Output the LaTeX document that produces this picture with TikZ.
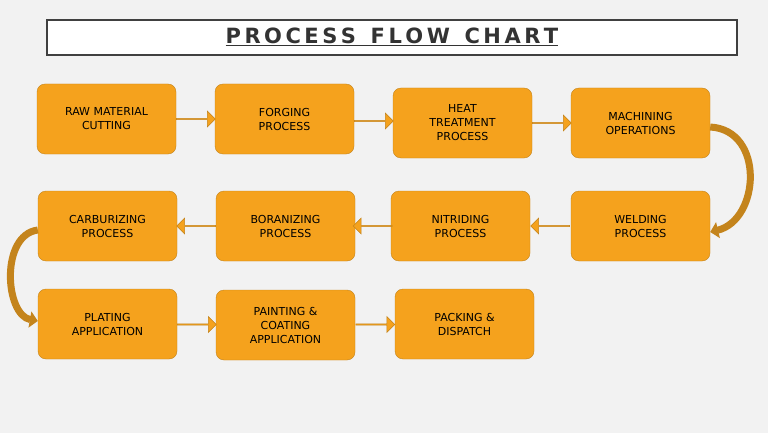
\documentclass[tikz,border=0pt]{standalone}
\usepackage{fontspec}
\setmainfont{DejaVu Sans}
\usetikzlibrary{shapes.arrows,calc,arrows.meta}
\definecolor{orf}{HTML}{F5A21D}
\definecolor{ord}{HTML}{C4841C}
\definecolor{bg}{HTML}{F2F2F2}
\begin{document}
\begin{tikzpicture}[x=1pt,y=-1pt,
 box/.style={draw=ord,fill=orf,rounded corners=8pt,minimum width=139pt,minimum height=70pt,align=center,font=\fontsize{11}{14}\selectfont,inner sep=2pt},
 arr/.style={single arrow,draw=ord,fill=orf,minimum height=39pt,minimum width=16pt,single arrow head extend=3pt,inner sep=0pt,line width=0.5pt},
 curv/.style={draw=ord,line width=7pt,-{Triangle[width=16pt,length=8pt]}}]
\useasboundingbox[fill=bg] (0,0) rectangle (768,433);
\node[draw=black!75,line width=1.5pt,fill=white,minimum width=690pt,minimum height=35pt,inner sep=0pt] (title) at (392,37.5) {};
\node[font=\bfseries\fontsize{21}{24}\selectfont,text=black!80] (tt) at (392,37) {\underline{P\,R\,O\,C\,E\,S\,S\ \ F\,L\,O\,W\ \ C\,H\,A\,R\,T}};
\node[box] (a) at (106.5,119) {RAW MATERIAL\\CUTTING};
\node[box] (b) at (284.5,119) {FORGING\\PROCESS};
\node[box] (c) at (462.5,123) {HEAT\\TREATMENT\\PROCESS};
\node[box] (d) at (640.5,123) {MACHINING\\OPERATIONS};
\node[box] (h) at (107.5,226) {CARBURIZING\\PROCESS};
\node[box] (g) at (285.5,226) {BORANIZING\\PROCESS};
\node[box] (f) at (460.5,226) {NITRIDING\\PROCESS};
\node[box] (e) at (640.5,226) {WELDING\\PROCESS};
\node[box] (i) at (107.5,324) {PLATING\\APPLICATION};
\node[box] (j) at (285.5,325) {PAINTING \&\\COATING\\APPLICATION};
\node[box] (k) at (464.5,324) {PACKING \&\\DISPATCH};
\node[arr] at ($(a.east)!0.5!(b.west)$) {};
\node[arr] at ($(b.east)!0.5!(c.west)+(0,0)$) {};
\node[arr] at ($(c.east)!0.5!(d.west)$) {};
\node[arr,shape border rotate=180] at ($(e.west)!0.5!(f.east)$) {};
\node[arr,shape border rotate=180] at ($(f.west)!0.5!(g.east)$) {};
\node[arr,shape border rotate=180] at ($(g.west)!0.5!(h.east)$) {};
\node[arr] at ($(i.east)!0.5!(j.west)$) {};
\node[arr] at ($(j.east)!0.5!(k.west)$) {};
\draw[curv] ($(d.east)+(0,4)$) .. controls (765,130) and (760,220) .. ($(e.east)+(0,6)$);
\draw[curv] ($(h.west)+(0,4)$) .. controls (0,235) and (5,315) .. ($(i.west)+(0,-3)$);
\end{tikzpicture}
\end{document}
